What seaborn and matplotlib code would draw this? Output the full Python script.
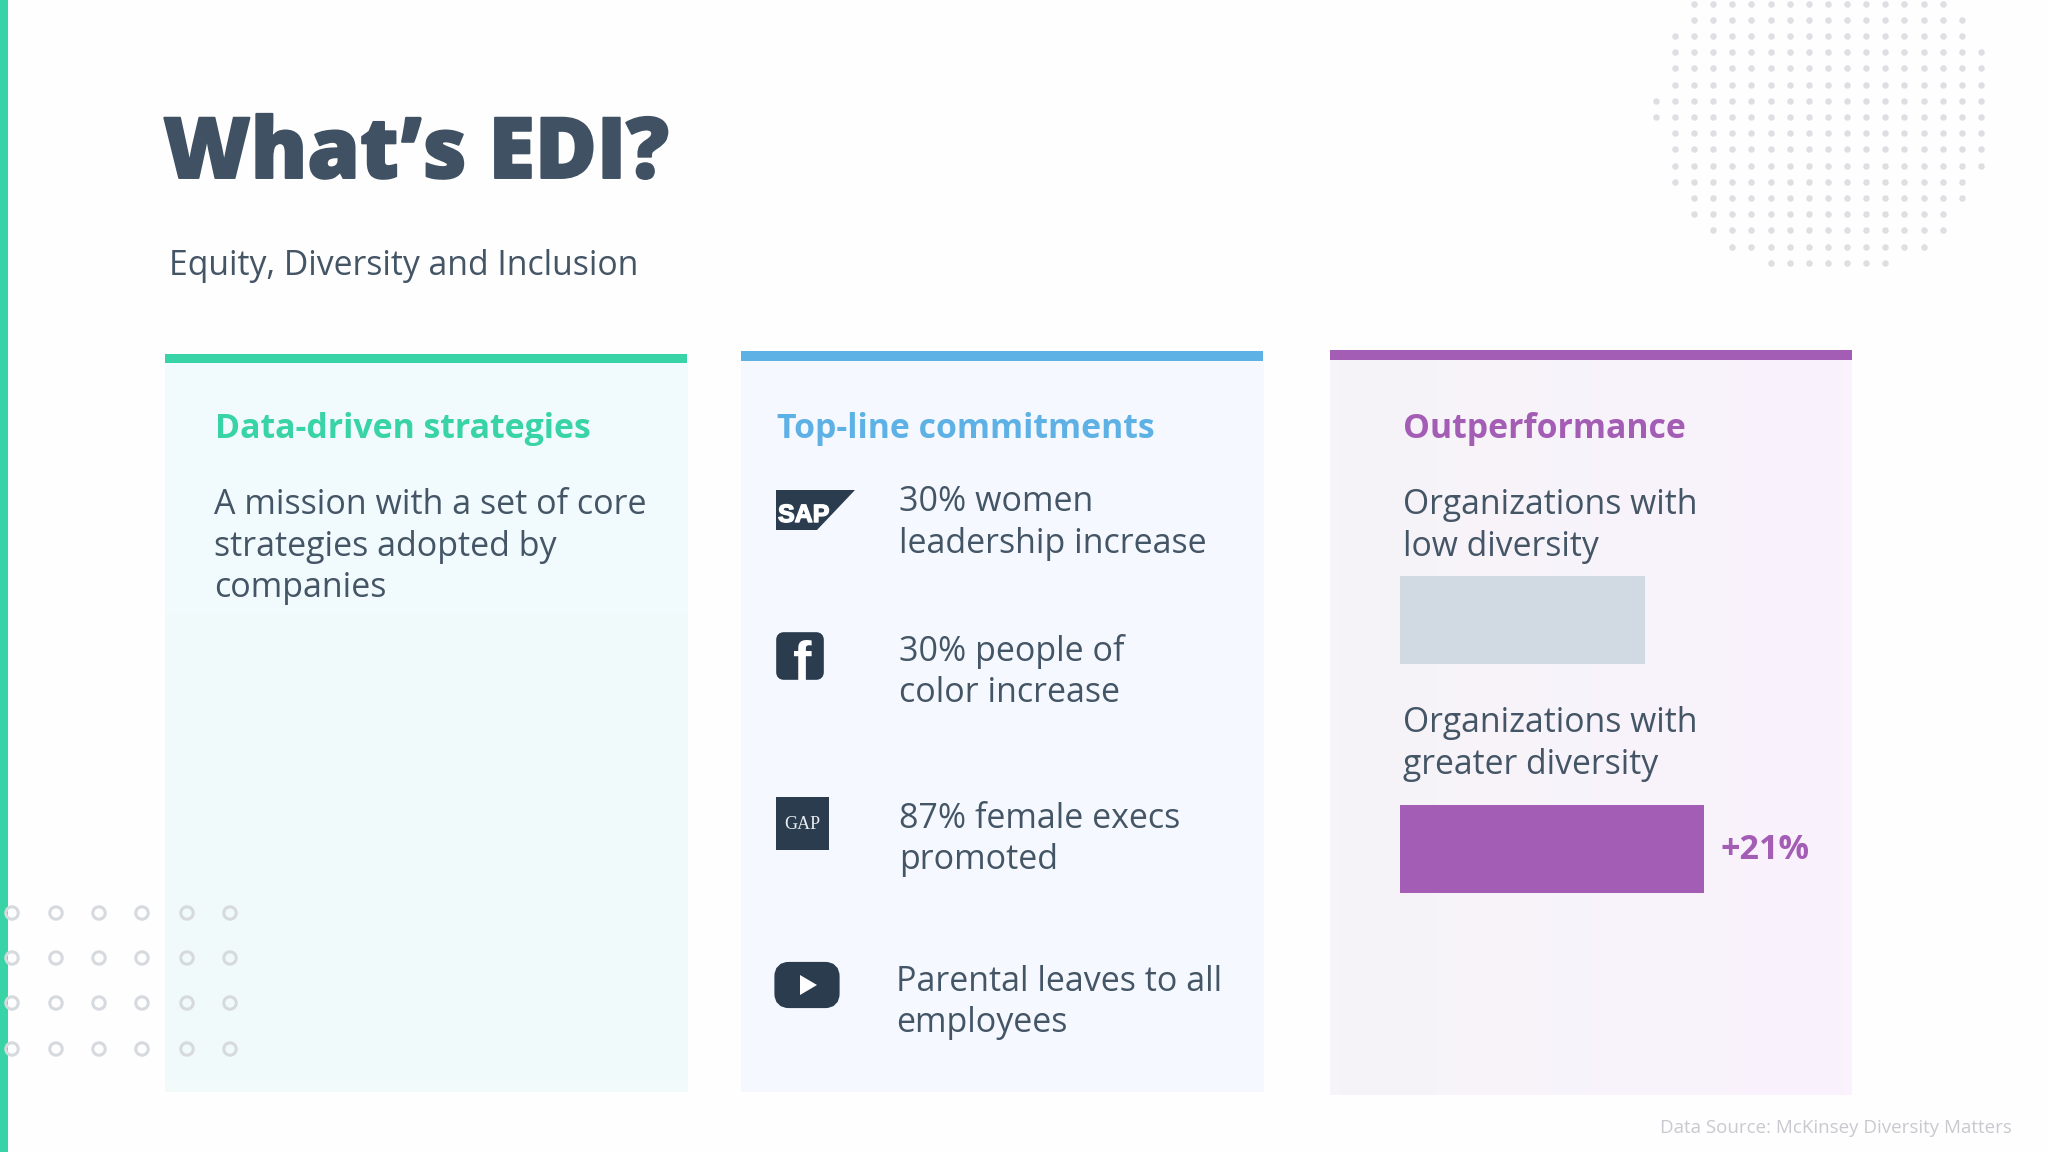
"""
What's EDI? - slide recreated with seaborn / matplotlib
"""

import numpy as np
import matplotlib
matplotlib.use('Agg')
import matplotlib.pyplot as plt
import matplotlib.patheffects as pe
from matplotlib.colors import LinearSegmentedColormap
from matplotlib.patches import FancyBboxPatch, Polygon, Rectangle
import seaborn as sns

# -- Data --
TITLE    = "What\u2019s EDI?"
SUBTITLE = "Equity, Diversity and Inclusion"
SOURCE   = "Data Source: McKinsey Diversity Matters"

HEADERS = ["Data-driven strategies", "Top-line commitments", "Outperformance"]

MISSION_LINES = ["A mission with a set of core", "strategies adopted by", "companies"]

COMMITMENTS = [
    ["30% women", "leadership increase"],
    ["30% people of", "color increase"],
    ["87% female execs", "promoted"],
    ["Parental leaves to all", "employees"],
]

DIVERSITY_LABELS = ["Organizations with\nlow diversity",
                    "Organizations with\ngreater diversity"]
DIVERSITY_VALUES = [100, 124]
UPLIFT_LABEL     = "+21%"

# -- Colours --
GREEN  = "#38D3A6"
BLUE   = "#5DB1E5"
PURPLE = "#A35DB4"
GREY   = "#D1DAE3"
INK    = "#445566"
DARK   = "#2B3C4E"
BG     = "#FEFEFE"

W, H = 2048, 1152

sns.set_theme(style="white")
plt.rcParams['font.family'] = ['Open Sans', 'DejaVu Sans']

fig = plt.figure(figsize=(W / 100, H / 100), dpi=100, facecolor=BG)

# page layer in pixel coordinates
ax = fig.add_axes([0, 0, 1, 1], zorder=0)
ax.set_facecolor(BG)
ax.axis('off')


def card(x0, x1, y_bar, y_end, bar_color, c0, c1, horizontal=True):
    cmap = LinearSegmentedColormap.from_list("card", [c0, c1])
    grad = np.linspace(0, 1, 64)
    grad = grad.reshape(1, -1) if horizontal else grad.reshape(-1, 1)
    ax.imshow(grad, extent=(x0, x1, y_end, y_bar + 9), cmap=cmap, aspect='auto',
              origin='upper', zorder=1)
    ax.add_patch(Rectangle((x0, y_bar), x1 - x0, 9.5, color=bar_color, lw=0, zorder=2))


def put(x, y, s, size, color=INK, weight='normal', **kw):
    return ax.text(x, y, s, fontsize=size, color=color, weight=weight,
                   va='baseline', ha=kw.pop('ha', 'left'), zorder=5, **kw)


card(164.5, 687, 353.5, 1092, GREEN, "#F1FBFD", "#F2FAFA", horizontal=False)
card(740.5, 1263, 351, 1092, BLUE, "#F5F9FF", "#F5F9FF")
card(1329.5, 1851.5, 350, 1095, PURPLE, "#F6F4F8", "#FAF2FD")

# left accent strip
ax.add_patch(Rectangle((0, 0), 8, H, color=GREEN, lw=0, zorder=2))

# -- Heading --
title = put(163, 178, TITLE, 60.8, color="#3F5163", weight=800)
title.set_path_effects([pe.withStroke(linewidth=1.4, foreground="#3F5163")])
put(169, 275, SUBTITLE, 24.3)
put(1660, 1133, SOURCE, 13.5, color="#C9C9CF")

# -- Card headers --
for x, text, color in zip([215, 777, 1403], HEADERS, [GREEN, BLUE, PURPLE]):
    put(x, 437.5, text, 24.4, color=color, weight='bold')

# -- Card 1 body --
for y, line in zip([514.5, 556, 597], MISSION_LINES):
    put(214.5, y, line, 24.5)

# -- Card 2 body --
commit_x = [899, 899, 899, 896.5]
commit_y = [(511, 553), (661, 702.5), (828, 869), (991, 1032)]
for x, ys, lines in zip(commit_x, commit_y, COMMITMENTS):
    for y, line in zip(ys, lines):
        put(x, y, line, 24.5)

# SAP
ax.add_patch(Polygon([(776, 490), (855, 490), (817, 530), (776, 530)], color=DARK, lw=0, zorder=3))
sap = put(778, 522, "SAP", 18, color="white", weight='bold', family=['Liberation Sans'])
sap.set_path_effects([pe.withStroke(linewidth=1.0, foreground="white")])

# Facebook
ax.add_patch(FancyBboxPatch((780, 636), 40, 40, boxstyle="round,pad=0,rounding_size=4",
                            mutation_aspect=1, fc=DARK, ec=DARK, lw=5.5, zorder=3))
put(793, 680, "f", 40, color="white", weight='bold', family=['Liberation Sans'])

# Gap
ax.add_patch(Rectangle((776, 796.5), 53, 53, color=DARK, lw=0, zorder=3))
put(802.5, 829, "GAP", 13, color="#E8ECF0", ha='center', family=['Liberation Serif'])

# YouTube
ax.add_patch(FancyBboxPatch((781, 968.5), 52, 33, boxstyle="round,pad=0,rounding_size=8",
                            fc=DARK, ec=DARK, lw=9.5, zorder=3))
ax.add_patch(Polygon([(800, 975), (817, 985), (800, 995)], color="white", lw=0, zorder=4))

# -- Card 3 body --
label_y = [(513.5, 555.5), (732.5, 774.5)]
for ys, label in zip(label_y, DIVERSITY_LABELS):
    for y, line in zip(ys, label.split("\n")):
        put(1403, y, line, 24.3)
put(1721, 859, UPLIFT_LABEL, 24.5, color=PURPLE, weight='bold')

# -- Decoration: dot disc top right --
dot_rows = [(1, 14), (1, 15), (0, 15), (0, 16), (0, 16), (0, 16), (-1, 16), (-1, 16), (0, 16),
            (0, 16), (0, 16), (0, 15), (1, 15), (1, 14), (2, 14), (3, 13), (5, 11)]
for r, (c0, c1) in enumerate(dot_rows):
    cols = np.arange(c0, c1 + 1)
    ax.scatter(1675 + cols * 19.12, np.full(cols.size, 3.5 + r * 16.2), s=22,
               color="#DEDFE3", lw=0, zorder=2)

# -- Decoration: rings bottom left --
ring_x = [12, 56, 99, 142, 187, 230]
ring_y = [913, 958, 1003, 1049]
for y in ring_y:
    ax.scatter(ring_x, [y] * len(ring_x), s=80, facecolors='none',
               edgecolors="#D6DADF", linewidths=2.2, zorder=4)

ax.set_xlim(0, W)
ax.set_ylim(H, 0)

# -- Bars --
ax_bar = fig.add_axes([1400 / W, 1 - 963 / H, 304 / W, 457 / H], zorder=2)
ax_bar.patch.set_alpha(0)
sns.barplot(x=DIVERSITY_VALUES, y=DIVERSITY_LABELS, hue=DIVERSITY_LABELS,
            palette=[GREY, PURPLE], legend=False, saturation=1, width=0.387,
            orient='h', linewidth=0, ax=ax_bar)
ax_bar.set_xlim(0, max(DIVERSITY_VALUES))
ax_bar.axis('off')

fig.savefig("out.png", dpi=100, facecolor=BG)
plt.close(fig)
